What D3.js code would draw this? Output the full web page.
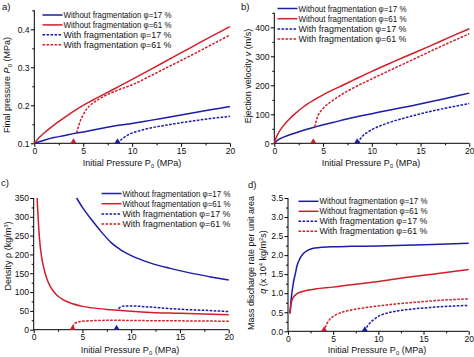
<!DOCTYPE html>
<html><head><meta charset="utf-8">
<script src="https://cdn.jsdelivr.net/npm/d3@7"></script>
<style>
html,body{margin:0;padding:0;background:#fff;}
svg{display:block;font-family:"Liberation Sans",Arial,sans-serif;}
</style></head>
<body><svg id="c" width="474" height="357"></svg>
<script>
// ---------------- DATA ----------------
const xTicks = [0, 5, 10, 15, 20];
const xMinorTicks = [2.5, 7.5, 12.5, 17.5];
const triggerP = [4.0, 8.5]; // fragmentation threshold markers (phi=61 %, phi=17 %)
const legendLabels = ["Without fragmentation ", "Without fragmentation ", "With fragmentation ", "With fragmentation "];
const legendPhi = ["=17 %", "=61 %", "=17 %", "=61 %"];

// a) Final pressure (MPa)
const aYTicks = [0.1, 0.2, 0.3, 0.4];
const aYMinor = [0.15, 0.25, 0.35, 0.45];
const aWithout17 = [[0,0.1],[0.5,0.104],[1,0.108],[2,0.115],[3,0.12],[4.33,0.127],[5,0.13],[6,0.135],[8,0.145],[10,0.152],[12,0.161],[14,0.17],[16,0.179],[18,0.188],[20,0.197]];
const aWithout61 = [[0,0.1],[0.5,0.115],[1,0.127],[2,0.148],[3,0.166],[4,0.184],[5,0.2],[6,0.214],[8,0.241],[10,0.268],[12,0.296],[14,0.324],[16,0.352],[18,0.38],[20,0.407]];
const aWith17 = [[8.5,0.1],[8.7,0.105],[9,0.112],[9.5,0.121],[10,0.127],[11,0.135],[12,0.141],[14,0.15],[16,0.158],[18,0.165],[20,0.171]];
const aWith61 = [[4.33,0.127],[4.5,0.143],[4.66,0.156],[5,0.175],[5.35,0.19],[6,0.206],[7,0.222],[8.75,0.242],[10,0.254],[12,0.279],[14,0.305],[16,0.331],[18,0.358],[20,0.385]];

// b) Ejection velocity (m/s)
const bYTicks = [0, 100, 200, 300, 400];
const bYMinor = [50, 150, 250, 350, 450];
const bWithout17 = [[0,0],[0.25,8],[0.5,14],[1,22],[2,34],[3,45],[4.15,56],[5,64],[6,72],[8,88],[10,102],[12,116],[14,129],[16,143],[18,158],[20,173]];
const bWithout61 = [[0,0],[0.2,20],[0.5,40],[1,63],[1.5,82],[2,98],[3,126],[4,148],[5,167],[6,184],[7,200],[8,216],[10,248],[12,278],[14,307],[16,336],[18,366],[20,395]];
const bWith17 = [[8.6,0],[8.8,14],[9,23],[9.5,37],[10,47],[11,62],[12,74],[14,93],[16,110],[18,124],[20,137]];
const bWith61 = [[4.15,56],[4.3,78],[4.5,97],[4.75,110],[5,120],[6,148],[7,170],[8,189],[10,222],[12,254],[14,285],[16,317],[18,348],[20,378]];

// c) Density (kg/m3)
const cYTicks = [0, 50, 100, 150, 200, 250, 300, 350];
const cYMinor = [25, 75, 125, 175, 225, 275, 325];
const cWithout17 = [[4.4,350],[5,325],[6,290],[7,258],[8,230],[9,211],[10,197],[12,177],[14,163],[16,151],[18,141],[20,132]];
const cWithout61 = [[0.35,350],[0.45,300],[0.6,240],[0.8,195],[1,168],[1.33,137],[1.7,115],[2,103],[2.5,89],[3,80],[4,69],[5,62],[6,58],[8,53],[10,49],[12,46],[15,44],[20,40]];
const cWith17 = [[8.7,56],[8.9,60],[9.2,63],[10,63],[12,60],[14,56],[16,53],[18,51],[20,48]];
const cWith61 = [[4,7],[4.1,13],[4.3,18],[4.6,21],[5,22.5],[6,24],[8,25],[10,24.5],[12,24],[15,23.5],[20,22.5]];

// d) Mass discharge rate q (x10^4 kg/m^2 s)
const dYTicks = [0, 0.5, 1, 1.5, 2, 2.5, 3, 3.5];
const dYMinor = [0.25, 0.75, 1.25, 1.75, 2.25, 2.75, 3.25];
const dWithout17 = [[0.22,0.47],[0.3,0.72],[0.4,0.95],[0.5,1.12],[0.6,1.28],[0.8,1.5],[1,1.72],[1.3,1.9],[1.7,2.04],[2.2,2.13],[2.8,2.18],[3.5,2.2],[5,2.22],[7,2.23],[10,2.24],[13,2.26],[16,2.28],[20,2.31]];
const dWithout61 = [[0.22,0.47],[0.3,0.65],[0.4,0.78],[0.5,0.85],[0.6,0.9],[0.8,0.95],[1,0.99],[1.5,1.04],[2,1.07],[3,1.11],[5,1.16],[7,1.22],[10,1.31],[13,1.41],[16,1.5],[20,1.62]];
const dWith17 = [[8.5,0],[8.7,0.1],[9,0.2],[9.45,0.3],[10.2,0.42],[11,0.48],[12,0.53],[14,0.59],[16,0.63],[18,0.66],[20,0.68]];
const dWith61 = [[3.9,0],[4.1,0.1],[4.3,0.2],[4.65,0.32],[5.2,0.42],[6,0.5],[7,0.56],[8.5,0.62],[10.2,0.67],[12,0.72],[14,0.76],[16,0.8],[18,0.83],[20,0.85]];

// ---------------- STYLE / LAYOUT ----------------
const BLUE = "#1c1caa", RED = "#d01e2a";
const seriesStyle = [
  {color: BLUE, dash: null},
  {color: RED, dash: null},
  {color: BLUE, dash: "2.6,1.4"},
  {color: RED, dash: "2.6,1.4"}
];

const panels = [
  {label:"a)", lx:2, ly:10, xr:[34.3,230], yr:[143.3,10.3], yd:[0.1,0.45], yt:aYTicks, ym:aYMinor, fmt:d3.format(".1f"),
   series:[aWithout17,aWithout61,aWith17,aWith61], base:0.1,
   leg:{x:42.5, y:15, dy:9.9},
   ytitle:{x:10, y:85, parts:[["Final pressure ",""],["P","i"],["0","sub"],[" (MPa)",""]]},
   xtitle:{x:132, y:165.5}},
  {label:"b)", lx:241, ly:10, xr:[274.3,469.3], yr:[143.3,12.8], yd:[0,450], yt:bYTicks, ym:bYMinor, fmt:d3.format("d"),
   series:[bWithout17,bWithout61,bWith17,bWith61], base:0,
   leg:{x:277.5, y:8.5, dy:10.2},
   ytitle:{x:251, y:76, parts:[["Ejection velocity ",""],["v","i"],[" (m/s)",""]]},
   xtitle:{x:371, y:165.5}},
  {label:"c)", lx:1, ly:186, xr:[33.7,228.7], yr:[329.7,198], yd:[0,350], yt:cYTicks, ym:cYMinor, fmt:d3.format("d"),
   series:[cWithout17,cWithout61,cWith17,cWith61], base:0,
   leg:{x:101.5, y:193.5, dy:10.2},
   ytitle:{x:11, y:256, parts:[["Density \u03c1 (kg/m",""],["3","sup"],[")",""]]},
   xtitle:{x:130, y:352.5}},
  {label:"d)", lx:248, ly:188, xr:[288,468.7], yr:[331.3,198], yd:[0,3.5], yt:dYTicks, ym:dYMinor, fmt:d3.format(".1f"),
   series:[dWithout17,dWithout61,dWith17,dWith61], base:0,
   leg:{x:298.5, y:201.3, dy:10},
   ytitle2:true,
   xtitle:{x:377, y:353}}
];

const svg = d3.select("#c");
const TICK_FS = 8.6, TITLE_FS = 9, LEG_FS = 8.6;

function addParts(text, parts){
  parts.forEach(([s, k]) => {
    const t = text.append("tspan").text(s);
    if (k === "i") t.attr("font-style","italic");
    if (k === "sub") { t.attr("font-size", "0.65em").attr("baseline-shift","-25%"); }
    if (k === "sup") { t.attr("font-size", "0.65em").attr("baseline-shift","45%"); }
  });
}

panels.forEach(p => {
  const g = svg.append("g");
  const x = d3.scaleLinear().domain([0,20]).range(p.xr);
  const y = d3.scaleLinear().domain(p.yd).range(p.yr);

  // axes
  const xAxis = d3.axisBottom(x).tickValues(xTicks).tickSize(3.5).tickPadding(1).tickFormat(d3.format("d"));
  const gx = g.append("g").attr("transform",`translate(0,${p.yr[0]})`).call(xAxis);
  const xMinor = d3.axisBottom(x).tickValues(xMinorTicks).tickSize(2).tickFormat("");
  const gxm = g.append("g").attr("transform",`translate(0,${p.yr[0]})`).call(xMinor);
  const yAxis = d3.axisLeft(y).tickValues(p.yt).tickSize(3.5).tickPadding(1.2).tickFormat(p.fmt);
  const gy = g.append("g").attr("transform",`translate(${p.xr[0]},0)`).call(yAxis);
  const yMinor = d3.axisLeft(y).tickValues(p.ym).tickSize(2).tickFormat("");
  const gym = g.append("g").attr("transform",`translate(${p.xr[0]},0)`).call(yMinor);
  [gx,gxm,gy,gym].forEach(a => {
    a.select(".domain").attr("stroke","#000").attr("stroke-width",1);
    a.selectAll(".tick line").attr("stroke","#000").attr("stroke-width",1);
    a.selectAll("text").attr("font-size",TICK_FS).attr("fill","#111").attr("font-family","Liberation Sans, Arial, sans-serif");
  });
  gxm.select(".domain").remove(); gym.select(".domain").remove();
  gx.select(".domain").attr("d", `M${p.xr[0]},0H${p.xr[1]}`);
  gy.select(".domain").attr("d", `M0,${p.yr[0]}V${p.yr[1]}`);

  // curves
  const line = d3.line().x(d => x(d[0])).y(d => y(d[1])).curve(d3.curveMonotoneX);
  p.series.forEach((s, i) => {
    g.append("path").datum(s).attr("d", line)
      .attr("fill","none").attr("stroke", seriesStyle[i].color)
      .attr("stroke-width", 1.5)
      .attr("stroke-dasharray", seriesStyle[i].dash)
      .attr("stroke-linejoin","round");
  });

  // threshold markers (triangles on x axis)
  const markerColors = [RED, BLUE];
  triggerP.forEach((tp, i) => {
    const cx = x(tp), cy = y(p.base);
    g.append("path")
      .attr("d", `M${cx-3},${cy}L${cx+3},${cy}L${cx},${cy-5}Z`)
      .attr("fill", markerColors[i]);
  });

  // legend
  seriesStyle.forEach((st, i) => {
    const ly = p.leg.y + i * p.leg.dy;
    g.append("line").attr("x1", p.leg.x).attr("x2", p.leg.x + 20)
      .attr("y1", ly).attr("y2", ly)
      .attr("stroke", st.color).attr("stroke-width", 1.5)
      .attr("stroke-dasharray", st.dash);
    const t = g.append("text").attr("x", p.leg.x + 21).attr("y", ly + 3)
      .attr("font-size", LEG_FS).attr("fill","#111")
      .attr("textLength", 108).attr("lengthAdjust","spacingAndGlyphs");
    t.append("tspan").text(legendLabels[i] + "\u03c6" + legendPhi[i]);
  });

  // panel label
  svg.append("text").attr("x", p.lx).attr("y", p.ly).attr("font-size", 9.5).attr("fill","#111").text(p.label);

  // x title
  const xt = svg.append("text").attr("x", p.xtitle.x).attr("y", p.xtitle.y)
    .attr("text-anchor","middle").attr("font-size", TITLE_FS).attr("fill","#111");
  addParts(xt, [["Initial Pressure P",""],["0","sub"],[" (MPa)",""]]);

  // y title
  if (p.ytitle) {
    const yt = svg.append("text").attr("transform", `translate(${p.ytitle.x},${p.ytitle.y}) rotate(-90)`)
      .attr("text-anchor","middle").attr("font-size", TITLE_FS).attr("fill","#111");
    addParts(yt, p.ytitle.parts);
  } else {
    const y1 = svg.append("text").attr("transform", `translate(254,263) rotate(-90)`)
      .attr("text-anchor","middle").attr("font-size", TITLE_FS).attr("fill","#111");
    addParts(y1, [["Mass discharge rate per unit area",""]]);
    const y2 = svg.append("text").attr("transform", `translate(266,262) rotate(-90)`)
      .attr("text-anchor","middle").attr("font-size", TITLE_FS).attr("fill","#111");
    addParts(y2, [["q","i"],[" (x 10",""],["4","sup"],[" kg/m",""],["2","sup"],["s)",""]]);
  }
});
</script></body></html>
